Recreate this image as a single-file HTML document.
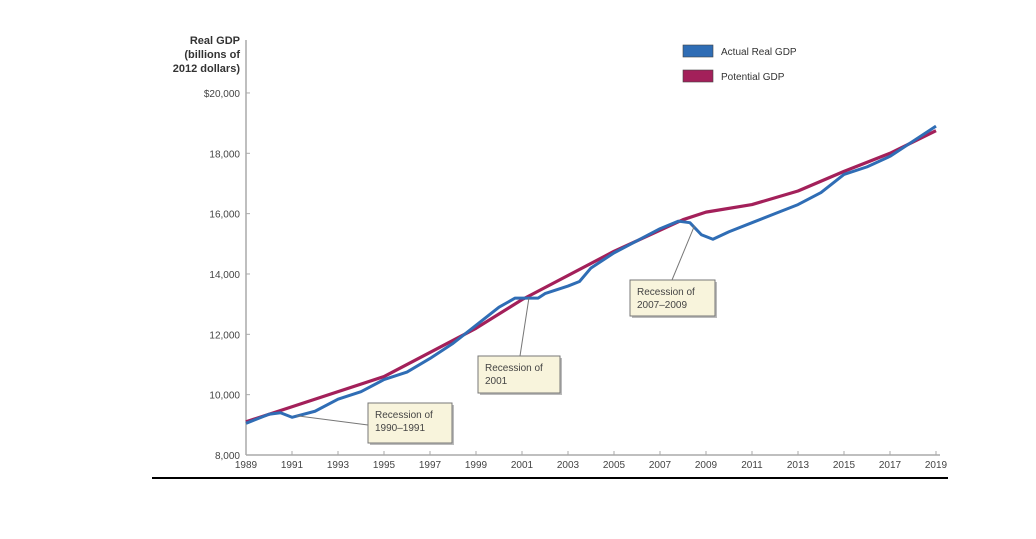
<!DOCTYPE html>
<html><head><meta charset="utf-8"><style>
body{margin:0;background:#fff;width:1036px;height:534px;overflow:hidden;font-family:"Liberation Sans",sans-serif}
</style></head><body>
<svg width="1036" height="534" font-family="Liberation Sans, sans-serif">
<g id="axes"></g><g id="marks"></g>
<text x="240" y="44" text-anchor="end" font-size="11" font-weight="bold" fill="#333"><tspan x="240">Real GDP</tspan><tspan x="240" dy="14">(billions of</tspan><tspan x="240" dy="14">2012 dollars)</tspan></text>
<line x1="152" y1="478" x2="948" y2="478" stroke="#000" stroke-width="2"/>
<g>
<rect x="683" y="45" width="30" height="12" fill="#2f6db5" stroke="#444" stroke-width="0.6"/>
<text x="721" y="55" font-size="10" fill="#333">Actual Real GDP</text>
<rect x="683" y="70" width="30" height="12" fill="#a3205a" stroke="#444" stroke-width="0.6"/>
<text x="721" y="80" font-size="10" fill="#333">Potential GDP</text>
</g>
<g id="notes"></g>
</svg>
<script>
const years=[1989,1991,1993,1995,1997,1999,2001,2003,2005,2007,2009,2011,2013,2015,2017,2019];
const yTicks=[8000,10000,12000,14000,16000,18000,20000];
const yTickLabels=["8,000","10,000","12,000","14,000","16,000","18,000","$20,000"];
const potentialX=[1989,1991,1995,1999,2001,2005,2008,2009,2011,2013,2015,2017,2019];
const potentialY=[9100,9600,10600,12200,13150,14750,15800,16050,16300,16750,17400,18000,18750];
const actualX=[1989,1990,1990.5,1991,1992,1993,1994,1995,1996,1997,1998,1999,2000,2000.7,2001,2001.7,2002,2003,2003.5,2004,2005,2006,2007,2007.8,2008.3,2008.8,2009.3,2010,2011,2012,2013,2014,2015,2016,2017,2018,2019];
const actualY=[9050,9350,9400,9250,9450,9850,10100,10500,10750,11200,11700,12300,12900,13200,13200,13200,13350,13600,13750,14200,14700,15100,15500,15750,15700,15300,15150,15400,15700,16000,16300,16700,17300,17550,17900,18400,18900];
const notes=[{t:["Recession of","1990\u20131991"],x:368,y:403,w:84,h:40,px:1991.2,py:9300,ax:368,ay:425,n:"recession-1990-note"},
{t:["Recession of","2001"],x:478,y:356,w:82,h:37,px:2001.3,py:13200,ax:520,ay:356,n:"recession-2001-note"},
{t:["Recession of","2007\u20132009"],x:630,y:280,w:85,h:36,px:2008.5,py:15600,ax:672,ay:280,n:"recession-2007-note"}];
const X=v=>246+(v-1989)*23, Y=v=>455-(v-8000)*0.03017;
const NS="http://www.w3.org/2000/svg";
function mk(tag,attrs,parent){const e=document.createElementNS(NS,tag);for(const k in attrs)e.setAttribute(k,attrs[k]);parent.appendChild(e);return e;}
const ax=document.getElementById('axes'),mk_=document.getElementById('marks'),nt=document.getElementById('notes');
let l=mk('line',{x1:246,y1:40,x2:246,y2:455,stroke:'#aaa','stroke-width':1.5},ax);


l=mk('line',{x1:246,y1:455,x2:940,y2:455,stroke:'#aaa','stroke-width':1.5},ax);


yTicks.forEach((v,i)=>{mk('line',{x1:246,y1:Y(v),x2:250,y2:Y(v),stroke:'#aaa'},ax);
const t=mk('text',{x:240,y:Y(v)+4,'text-anchor':'end','font-size':10,fill:'#444'},ax);t.textContent=yTickLabels[i];

});
years.forEach(v=>{mk('line',{x1:X(v),y1:451,x2:X(v),y2:455,stroke:'#aaa'},ax);
const t=mk('text',{x:X(v),y:468,'text-anchor':'middle','font-size':10,fill:'#444'},ax);t.textContent=v;

});
const pp=mk('polyline',{points:potentialX.map((x,i)=>X(x)+','+Y(potentialY[i])).join(' '),fill:'none',stroke:'#a3205a','stroke-width':3.2,'stroke-linejoin':'round'},mk_);


const ap=mk('polyline',{points:actualX.map((x,i)=>X(x)+','+Y(actualY[i])).join(' '),fill:'none',stroke:'#2f6db5','stroke-width':3,'stroke-linejoin':'round'},mk_);


notes.forEach(n=>{const g=mk('g',{},nt);


mk('line',{x1:X(n.px),y1:Y(n.py),x2:n.ax,y2:n.ay,stroke:'#777','stroke-width':1},g);
mk('rect',{x:n.x+2,y:n.y+2,width:n.w,height:n.h,fill:'#bbb'},g);
mk('rect',{x:n.x,y:n.y,width:n.w,height:n.h,fill:'#f8f4dc',stroke:'#777'},g);
n.t.forEach((s,i)=>{const t=mk('text',{x:n.x+7,y:n.y+15+i*13,'font-size':10,fill:'#444'},g);t.textContent=s;});});
</script>
</body></html>
